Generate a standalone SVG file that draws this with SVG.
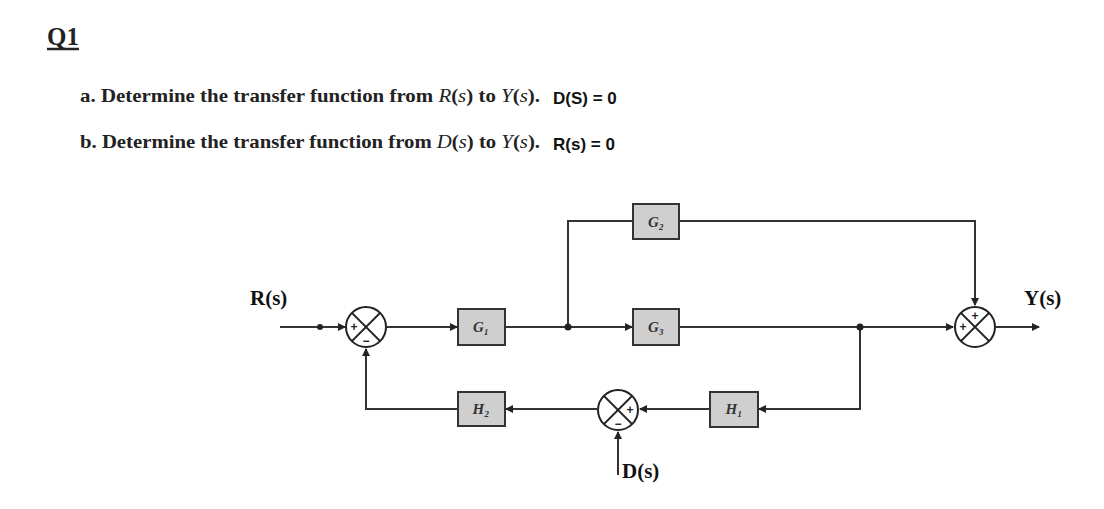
<svg xmlns="http://www.w3.org/2000/svg" width="1104" height="509" viewBox="0 0 1104 509">
<style>
.t{font-family:"Liberation Serif",serif;font-weight:bold;font-size:19px;fill:#222}
.i{font-style:italic;font-weight:normal}
.s{font-family:"Liberation Sans",sans-serif;font-weight:bold;font-size:17px;fill:#111}
.lbl{font-family:"Liberation Serif",serif;font-weight:bold;font-size:21px;fill:#111}
.box rect{fill:#cfcfcf;stroke:#333;stroke-width:2}
.box text{font-family:"Liberation Serif",serif;font-style:italic;font-weight:bold;font-size:15px;fill:#333;text-anchor:middle}
.sum circle{fill:#fff;stroke:#222;stroke-width:2}
.sum line{stroke:#222;stroke-width:1.8}
.sum text{font-family:"Liberation Sans",sans-serif;font-size:12px;font-weight:bold;fill:#222;text-anchor:middle}
.c path{fill:none;stroke:#333;stroke-width:2}
</style>
<defs><marker id="a" markerWidth="8" markerHeight="8" refX="7" refY="4" orient="auto" markerUnits="userSpaceOnUse"><path d="M0,0 L8,4 L0,8z" fill="#222"/></marker></defs>
<text x="47" y="45" class="t" style="font-size:25px">Q1</text>
<line x1="47" y1="49" x2="79" y2="49" stroke="#222" stroke-width="2.5"/>
<text x="80" y="102" class="t" textLength="460" lengthAdjust="spacingAndGlyphs">a. Determine the transfer function from <tspan class="i">R</tspan>(<tspan class="i">s</tspan>) to <tspan class="i">Y</tspan>(<tspan class="i">s</tspan>).</text>
<text x="553" y="104" class="s">D(S) = 0</text>
<text x="80" y="148" class="t" textLength="460" lengthAdjust="spacingAndGlyphs">b. Determine the transfer function from <tspan class="i">D</tspan>(<tspan class="i">s</tspan>) to <tspan class="i">Y</tspan>(<tspan class="i">s</tspan>).</text>
<text x="553" y="150" class="s">R(s) = 0</text>
<g class="c" id="connectors">
<path d="M280,327 H345" marker-end="url(#a)"/>
<path d="M387,327 H457" marker-end="url(#a)"/>
<path d="M505,327 H632" marker-end="url(#a)"/>
<path d="M568,327 V221 H633"/>
<path d="M679,221 H975 V305" marker-end="url(#a)"/>
<path d="M679,327 H953" marker-end="url(#a)"/>
<path d="M996,327 H1039" marker-end="url(#a)"/>
<path d="M860,327 V409 H759" marker-end="url(#a)"/>
<path d="M710,409 H640" marker-end="url(#a)"/>
<path d="M597,409 H506" marker-end="url(#a)"/>
<path d="M458,409 H366 V349" marker-end="url(#a)"/>
<path d="M618,475 V432" marker-end="url(#a)"/>
<circle cx="320" cy="327" r="3" fill="#222" stroke="none"/>
<circle cx="568" cy="327" r="3.5" fill="#222" stroke="none"/>
<circle cx="860" cy="327" r="3.5" fill="#222" stroke="none"/>
</g>
<g id="sum1" class="sum"><circle cx="366" cy="327" r="20"/><line x1="352" y1="313" x2="380" y2="341"/><line x1="380" y1="313" x2="352" y2="341"/><text x="354" y="331">+</text><text x="366" y="345">−</text></g>
<g id="sum2" class="sum"><circle cx="618" cy="410" r="20"/><line x1="604" y1="396" x2="632" y2="424"/><line x1="632" y1="396" x2="604" y2="424"/><text x="630" y="414">+</text><text x="618" y="428">−</text></g>
<g id="sum3" class="sum"><circle cx="975" cy="327" r="20"/><line x1="961" y1="313" x2="989" y2="341"/><line x1="989" y1="313" x2="961" y2="341"/><text x="975" y="320">+</text><text x="963" y="331">+</text></g>
<g id="G1" class="box"><rect x="458" y="309" width="47" height="36"/><text x="481" y="332">G₁</text></g>
<g id="G2" class="box"><rect x="633" y="204" width="46" height="35"/><text x="656" y="227">G₂</text></g>
<g id="G3" class="box"><rect x="633" y="309" width="46" height="36"/><text x="656" y="332">G₃</text></g>
<g id="H2" class="box"><rect x="458" y="392" width="47" height="34"/><text x="481" y="414">H₂</text></g>
<g id="H1" class="box"><rect x="710" y="392" width="48" height="35"/><text x="734" y="414">H₁</text></g>
<text x="250" y="305" class="lbl">R(s)</text>
<text x="1024" y="305" class="lbl">Y(s)</text>
<text x="622" y="478" class="lbl">D(s)</text>
</svg>
